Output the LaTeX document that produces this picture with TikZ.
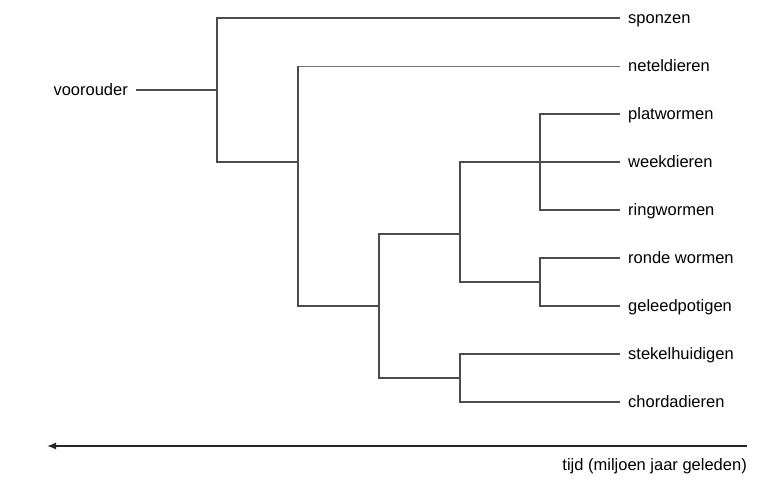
\documentclass[tikz,border=0pt]{standalone}
\usepackage{fontspec}
\setmainfont{Liberation Sans}
\usetikzlibrary{arrows.meta}
\usetikzlibrary{calc}

\begin{document}
\begin{tikzpicture}[x=1pt,y=-1pt,
	tak/.style={draw=black!70, line width=1.2pt},
	dun/.style={draw=black!55, line width=0.8pt},
	soort/.style={anchor=west, inner xsep=8pt, inner ysep=0pt, text height=12pt, text depth=1pt, font=\fontsize{16.5}{19}\selectfont}]
	\useasboundingbox (0,0) rectangle (768,484);
	\def\xb{620} % end of the branches
	
	% groups
	\node[soort] (spo) at (\xb,18) {sponzen};
	\node[soort] (net) at (\xb,66) {neteldieren};
	\node[soort] (pla) at (\xb,114) {platwormen};
	\node[soort] (wee) at (\xb,162) {weekdieren};
	\node[soort] (rin) at (\xb,210) {ringwormen};
	\node[soort] (ron) at (\xb,258) {ronde wormen};
	\node[soort] (gel) at (\xb,306) {geleedpotigen};
	\node[soort] (ste) at (\xb,354) {stekelhuidigen};
	\node[soort] (cho) at (\xb,402) {chordadieren};
	\node[soort, anchor=east] (voo) at (136,90) {voorouder};
	
	% branch points
	\coordinate (R) at (217,90);
	\coordinate (N1) at (298,162);
	\coordinate (N2) at (379,306);
	\coordinate (N3) at (460,234);
	\coordinate (N4) at (460,378);
	\coordinate (N5) at (540,282);
	\coordinate (N6) at (540,162);
	
	% tree
	\draw[tak] (voo.east) -- (R);
	\draw[tak] (spo.west) -| (R) |- (N1);
	\draw[dun] (net.west) -- (net.west -| N1);
	\draw[tak] (net.west -| N1) -- (N1) |- (N2);
	\draw[tak] (N3) -| (N2) |- (N4);
	\draw[tak] (wee.west) -| (N3) |- (N5);
	\draw[tak] (pla.west) -| (N6) |- (rin.west);
	\draw[tak] (ron.west) -| (N5) |- (gel.west);
	\draw[tak] (ste.west) -| (N4) |- (cho.west);
	
	% time axis
	\coordinate (T1) at (747,446);
	\coordinate (T0) at (47,446);
	\draw[-{Latex[length=9pt,width=7pt]}, line width=1.4pt, black!85] (T1) -- (T0);
	\node[anchor=base east, inner sep=0pt, font=\fontsize{16.5}{19}\selectfont] (tijd) at (747,470) {tijd (miljoen jaar geleden)};
\end{tikzpicture}
\end{document}
